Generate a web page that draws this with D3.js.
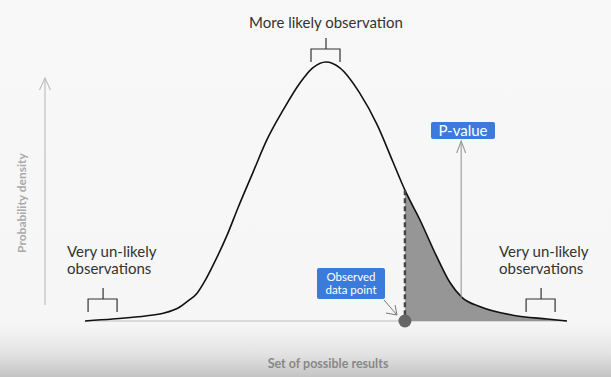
<!DOCTYPE html>
<html>
<head>
<meta charset="utf-8">
<script src="https://cdn.jsdelivr.net/npm/d3@7"></script>
<style>
  html, body { margin: 0; padding: 0; background: #f8f8f8; }
  svg { display: block; font-family: Lato, "Open Sans", sans-serif; }
</style>
</head>
<body>
<div id="chart"></div>
<script>
// Werte (x in "Sigma", y = Dichte)
const curveX = [-4.0, -3.54, -2.97, -2.70, -2.42, -2.29, -2.14, -2.01, -1.87, -1.64, -1.46, -1.21, -0.98, -0.71, -0.43, -0.22, 0,
                0.23, 0.56, 0.85, 1.11, 1.31, 1.56, 1.84, 2.06, 2.26, 2.56, 3.10, 3.67, 4.0];
const curveY = [0, 0.003, 0.008, 0.012, 0.022, 0.031, 0.043, 0.062, 0.087, 0.133, 0.175, 0.230, 0.280, 0.326, 0.368, 0.391, 0.400,
                0.391, 0.352, 0.303, 0.246, 0.202, 0.156, 0.099, 0.059, 0.036, 0.022, 0.009, 0.003, 0];
const observedX = 1.31;
const pValueX = 2.26;
const bracketXs = [-3.70, 0, 3.57];
const labels = {
  top: "More likely observation",
  tails: ["Very un-likely", "observations"],
  observed: ["Observed", "data point"],
  pvalue: "P-value",
  xAxis: "Set of possible results",
  yAxis: "Probability density"
};

const W = 611, H = 377;
const svg = d3.select("#chart").append("svg").attr("width", W).attr("height", H);

// Hintergrund + dunkler Verlauf unten
const defs = svg.append("defs");
const grad = defs.append("linearGradient").attr("id", "fade").attr("x1", 0).attr("x2", 0).attr("y1", 0).attr("y2", 1);
grad.append("stop").attr("offset", "0%").attr("stop-color", "#f8f8f8");
grad.append("stop").attr("offset", "86%").attr("stop-color", "#f6f6f6");
grad.append("stop").attr("offset", "94%").attr("stop-color", "#e2e2e2");
grad.append("stop").attr("offset", "100%").attr("stop-color", "#c4c4c4");
svg.append("rect").attr("width", W).attr("height", H).attr("fill", "url(#fade)");

const x = d3.scaleLinear().domain([-4, 4]).range([85, 567]);
const y = d3.scaleLinear().domain([0, 0.4]).range([321, 62]);

const pts = curveX.map((v, i) => ({ x: v, y: curveY[i] }));

// Basislinie
svg.append("line").attr("x1", x(-4)).attr("x2", x(4)).attr("y1", y(0)).attr("y2", y(0))
  .attr("stroke", "#d0d0d0").attr("stroke-width", 1.5);

// Fläche rechts vom Beobachtungspunkt
const tail = pts.filter(d => d.x >= observedX);
svg.append("path").datum(tail)
  .attr("d", d3.area().x(d => x(d.x)).y0(y(0)).y1(d => y(d.y)).curve(d3.curveMonotoneX))
  .attr("fill", "#969696");

// Glockenkurve
svg.append("path").datum(pts)
  .attr("d", d3.line().x(d => x(d.x)).y(d => y(d.y)).curve(d3.curveMonotoneX))
  .attr("fill", "none").attr("stroke", "#111").attr("stroke-width", 1.6);

// gestrichelte Linie + Punkt
const obsY = curveY[curveX.indexOf(observedX)];
svg.append("line").attr("x1", x(observedX)).attr("x2", x(observedX)).attr("y1", y(obsY)).attr("y2", y(0))
  .attr("stroke", "#444").attr("stroke-width", 2.4).attr("stroke-dasharray", "5,3");
svg.append("circle").attr("cx", x(observedX)).attr("cy", y(0)).attr("r", 6.5).attr("fill", "#666");

// Klammern
function bracket(cx, top) {
  const g = svg.append("g").attr("fill", "none").attr("stroke", "#333").attr("stroke-width", 1.2);
  g.append("path").attr("d",
    `M${cx},${top} V${top + 11} M${cx - 15},${top + 24} V${top + 11} H${cx + 14} V${top + 24}`);
}
bracket(x(bracketXs[0]), 288);
bracket(x(bracketXs[1]), 38);
bracket(x(bracketXs[2]), 288);

// Texte
const txt = (t, px, py, opts = {}) => svg.append("text").attr("x", px).attr("y", py)
  .attr("font-size", opts.size || 15).attr("fill", opts.fill || "#333")
  .attr("font-weight", opts.weight || 400).attr("text-anchor", opts.anchor || "start").text(t);

txt(labels.top, x(0), 28, { anchor: "middle" });
txt(labels.tails[0], 67, 257);
txt(labels.tails[1], 67, 274);
txt(labels.tails[0], 499, 257);
txt(labels.tails[1], 499, 274);

// Y-Achse Pfeil
const ax = svg.append("g").attr("stroke", "#bbb").attr("fill", "none").attr("stroke-width", 1.1);
ax.append("line").attr("x1", 45).attr("x2", 45).attr("y1", 305).attr("y2", 78);
ax.append("path").attr("d", "M39.5,90 L45,78 L50.5,90");
svg.append("text").attr("transform", "translate(26,203) rotate(-90)")
  .attr("text-anchor", "middle").attr("font-size", 12).attr("font-weight", 700).attr("fill", "#aaa")
  .text(labels.yAxis);

// X-Achsen-Beschriftung
txt(labels.xAxis, 328, 368, { anchor: "middle", size: 12.5, weight: 700, fill: "#888" });

// P-Wert Pfeil + Box
const pvY = curveY[curveX.indexOf(pValueX)];
const pa = svg.append("g").attr("stroke", "#999").attr("fill", "none").attr("stroke-width", 1.1);
pa.append("line").attr("x1", x(pValueX) - 1).attr("x2", x(pValueX) - 1).attr("y1", y(pvY)).attr("y2", 141);
pa.append("path").attr("d", `M${x(pValueX) - 5.5},153 L${x(pValueX) - 1},141 L${x(pValueX) + 3.5},153`);
svg.append("rect").attr("x", 431).attr("y", 122).attr("width", 64).attr("height", 17).attr("rx", 2)
  .attr("fill", "#3b7bdb");
txt(labels.pvalue, 463, 136, { anchor: "middle", fill: "#fff", size: 15 });

// Box "Observed data point" + Pfeil
svg.append("rect").attr("x", 317).attr("y", 268).attr("width", 68).attr("height", 31).attr("rx", 2)
  .attr("fill", "#3b7bdb");
txt(labels.observed[0], 351, 281, { anchor: "middle", fill: "#fff", size: 11.5 });
txt(labels.observed[1], 351, 294, { anchor: "middle", fill: "#fff", size: 11.5 });
const oa = svg.append("g").attr("stroke", "#777").attr("fill", "none").attr("stroke-width", 1);
oa.append("line").attr("x1", 384).attr("y1", 300).attr("x2", 397).attr("y2", 315);
oa.append("path").attr("d", "M386,313 L397,315 L395,305");
</script>
</body>
</html>
